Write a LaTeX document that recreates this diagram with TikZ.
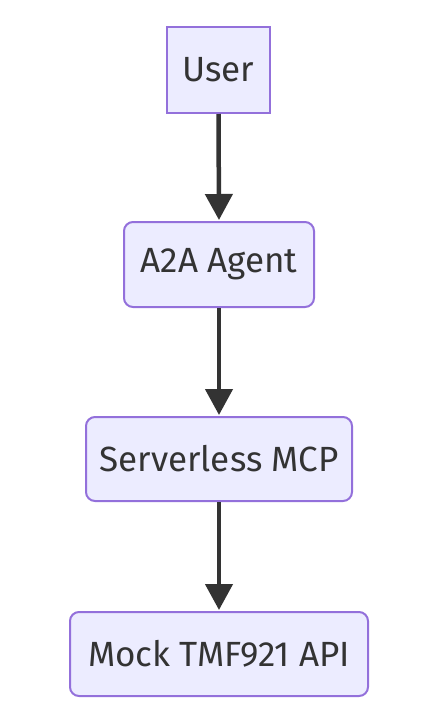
\documentclass[tikz,border=0pt]{standalone}
\usepackage{fontspec}
\setmainfont{Fira Sans}
\usetikzlibrary{arrows.meta}
\definecolor{nodefill}{HTML}{ECECFF}
\definecolor{nodeborder}{HTML}{9370DB}
\definecolor{edgecol}{HTML}{333333}
\tikzset{
  box/.style={draw=nodeborder, fill=nodefill, line width=2pt, text=edgecol,
    font=\fontsize{35}{42}\selectfont, inner sep=0pt, anchor=center},
  rbox/.style={box, rounded corners=9pt},
  edge/.style={draw=edgecol, line width=4.5pt, -{Triangle[length=26pt,width=27pt]}, shorten >=1pt}
}
\begin{document}
\begin{tikzpicture}[x=1pt,y=-1pt]
\useasboundingbox (0,0) rectangle (427,724);
\node[box, minimum width=103pt, minimum height=86pt] (user) at (218.5,70) {User};
\node[rbox, minimum width=190pt, minimum height=85pt] (agent) at (219,264.5) {A2A Agent};
\node[rbox, minimum width=266pt, minimum height=84pt] (mcp) at (219,459) {Serverless MCP};
\node[rbox, minimum width=298pt, minimum height=84pt] (api) at (219,654) {Mock TMF921 API};
\draw[edge] (user.south) -- (agent.north);
\draw[edge] (agent.south) -- (mcp.north);
\draw[edge] (mcp.south) -- (api.north);
\end{tikzpicture}
\end{document}
